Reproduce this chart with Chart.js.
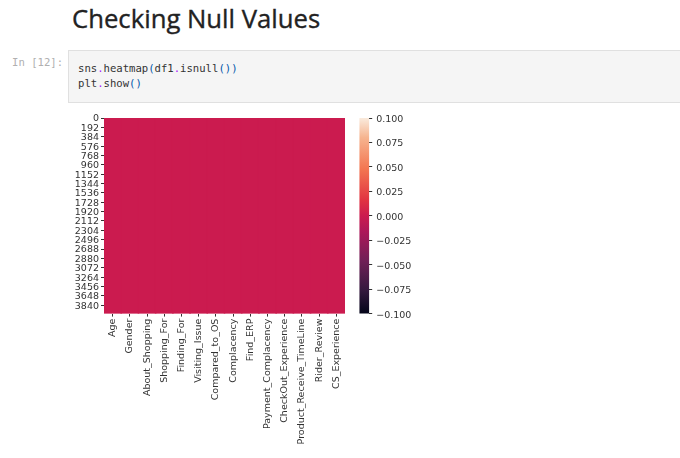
<!DOCTYPE html>
<html>
<head>
<meta charset="utf-8">
<script src="https://cdn.jsdelivr.net/npm/chart.js@4"></script>
<style>
html,body{margin:0;padding:0;background:#fff;width:680px;height:458px;overflow:hidden}
h1{position:absolute;left:72px;top:0px;margin:0;font:500 25.7px/38px "Open Sans",sans-serif;color:#222;-webkit-text-stroke:0.35px #222}
.prompt{position:absolute;left:12px;top:55px;font:10.6px/15px "DejaVu Sans Mono",monospace;color:#b0b0b0}
.cell{position:absolute;left:68px;top:50px;width:612px;height:53px;box-sizing:border-box;background:#f5f5f5;border:1px solid #e0e0e0;border-right:0}
pre{position:absolute;left:78px;top:61px;margin:0;font:10.6px/15px "DejaVu Sans Mono",monospace;color:#333}
pre i{font-style:normal;color:#a2f}pre b{font-weight:normal;color:#05a}
canvas{position:absolute;filter:blur(0.3px)}
#heat{left:60px;top:112px}
#bar{left:350px;top:112px}
</style>
</head>
<body>
<h1>Checking Null Values</h1>
<div class="prompt">In [12]:</div>
<div class="cell"></div>
<pre>sns<i>.</i>heatmap<b>(</b>df1<i>.</i>isnull<b>())</b>
plt<i>.</i>show<b>()</b></pre>
<canvas id="heat" width="290" height="336" style="width:290px;height:336px"></canvas>
<canvas id="bar" width="80" height="210" style="width:80px;height:210px"></canvas>
<script>
const columns = ["Age","Gender","About_Shopping","Shopping_For","Finding_For","Visiting_Issue","Compared_to_OS","Complacency","Find_ERP","Payment_Complacency","CheckOut_Experience","Product_Receive_TimeLine","Rider_Review","CS_Experience"];
const nullFlags = [0,0,0,0,0,0,0,0,0,0,0,0,0,0];
const rowCount = 4014;
const rowTicks = [0,192,384,576,768,960,1152,1344,1536,1728,1920,2112,2304,2496,2688,2880,3072,3264,3456,3648,3840];
const barTicks = [-0.1,-0.075,-0.05,-0.025,0,0.025,0.05,0.075,0.1];
const barRange = [-0.1,0.1];
const rocketStops = ["#03051a","#35193e","#701f57","#ad1759","#cb1b4f","#e13342","#f37651","#f6b48f","#faebdd"];
const rocketPositions = [0,0.12,0.27,0.42,0.5,0.58,0.74,0.9,1];
const zeroColor = "#cb1b4f";
const inkColor = "#333333";
const tickFont = {family:"'DejaVu Sans'",size:9.5};

Chart.defaults.animation = false;
Chart.defaults.devicePixelRatio = 1;

new Chart(document.getElementById("heat"),{
  type:"bar",
  data:{labels:columns,datasets:[{
    data:nullFlags.map(()=>[0,rowCount]),
    backgroundColor:zeroColor,
    borderColor:zeroColor,
    borderWidth:1,
    borderSkipped:false,
    inflateAmount:1,
    barPercentage:1,
    categoryPercentage:1,
    clip:0
  }]},
  options:{
    responsive:false,
    layout:{padding:{left:0,right:5,top:6,bottom:0}},
    plugins:{legend:{display:false},tooltip:{enabled:false}},
    scales:{
      x:{
        grid:{display:true,drawOnChartArea:false,drawTicks:true,tickLength:3,color:inkColor,offset:false},
        border:{display:false},
        afterFit(s){s.height=134.4;s.paddingLeft=0;s.paddingRight=0;},
        ticks:{autoSkip:false,minRotation:90,maxRotation:90,padding:2,color:inkColor,font:tickFont}
      },
      y:{
        reverse:true,min:0,max:rowCount,
        grid:{display:true,drawOnChartArea:false,drawTicks:true,tickLength:3,color:inkColor},
        border:{display:false},
        afterFit(s){s.width=44;s.paddingTop=0;s.paddingBottom=0;},
        afterBuildTicks(s){s.ticks=rowTicks.map(v=>({value:v+0.5}));},
        ticks:{autoSkip:false,padding:2,labelOffset:1,color:inkColor,font:tickFont,callback:v=>String(v-0.5)}
      }
    }
  }
});

new Chart(document.getElementById("bar"),{
  type:"bar",
  data:{labels:["scale"],datasets:[{
    data:[barRange],
    barPercentage:1,
    categoryPercentage:1,
    borderWidth:0,
    backgroundColor(c){
      const a=c.chart.chartArea;
      if(!a) return zeroColor;
      const g=c.chart.ctx.createLinearGradient(0,a.bottom,0,a.top);
      rocketStops.forEach((col,i)=>g.addColorStop(rocketPositions[i],col));
      return g;
    }
  }]},
  options:{
    responsive:false,
    layout:{padding:{left:9.4,right:0,top:6,bottom:8.4}},
    plugins:{legend:{display:false},tooltip:{enabled:false}},
    scales:{
      x:{display:false},
      y:{
        position:"right",min:barRange[0],max:barRange[1],
        grid:{display:true,drawOnChartArea:false,drawTicks:true,tickLength:3,color:inkColor},
        border:{display:false},
        afterFit(s){s.width=60.8;s.paddingTop=0;s.paddingBottom=0;},
        afterBuildTicks(s){s.ticks=barTicks.map(v=>({value:v}));},
        ticks:{autoSkip:false,padding:4,labelOffset:1.5,color:inkColor,font:tickFont,
          callback:v=>(v<0?"\u2212":"")+Math.abs(v).toFixed(3)}
      }
    }
  }
});
</script>
</body>
</html>
